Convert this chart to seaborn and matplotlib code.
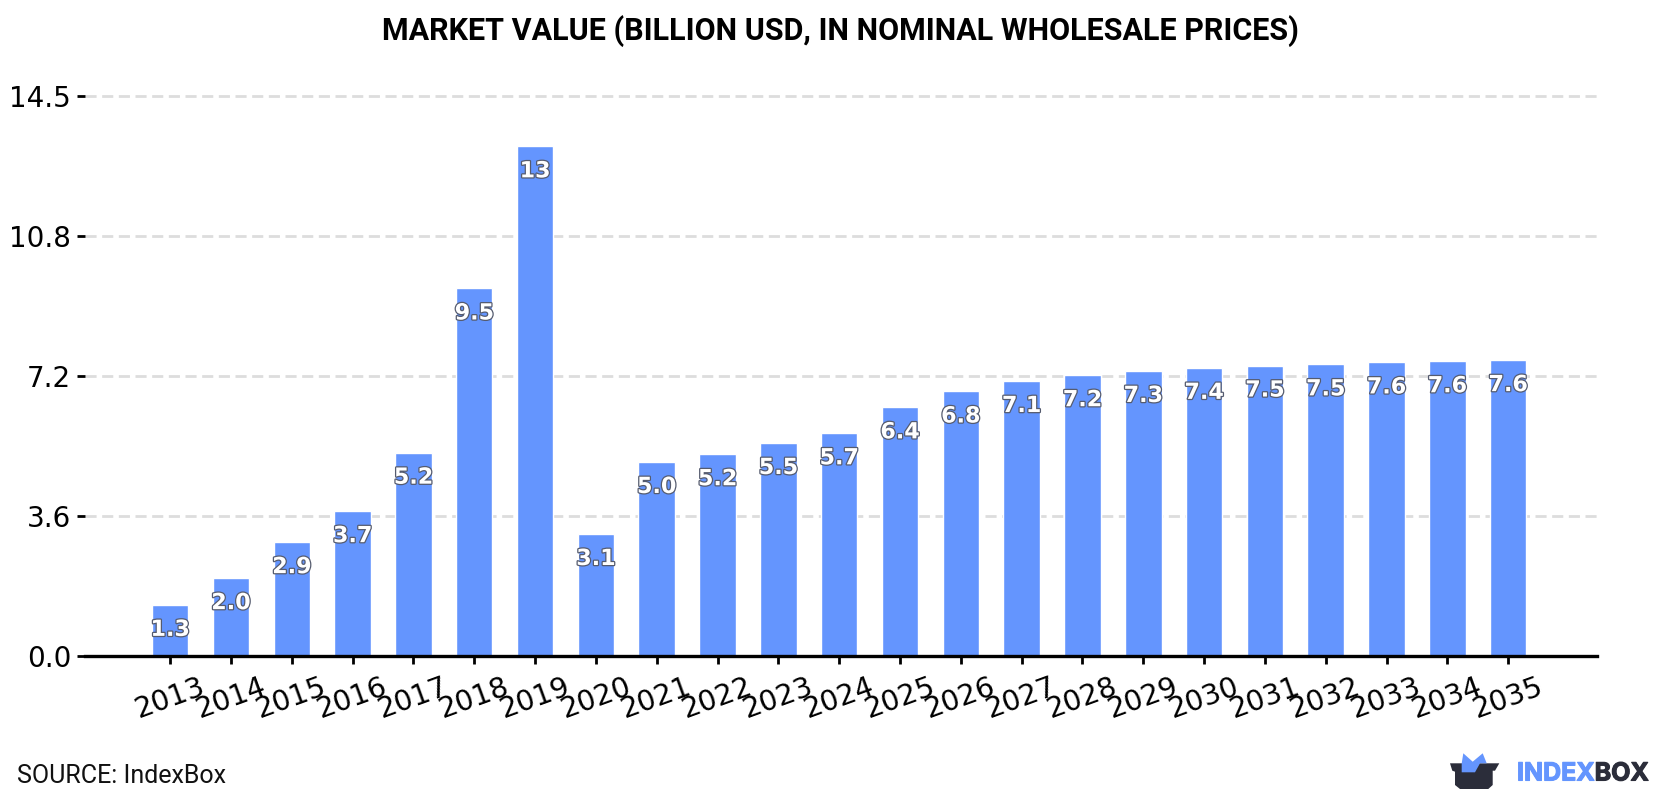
import matplotlib
matplotlib.use("Agg")
import matplotlib.pyplot as plt
import matplotlib.patheffects as pe
from matplotlib.patches import Polygon
import pandas as pd
import seaborn as sns

years = [str(y) for y in range(2013, 2036)]
values = [1.31, 2.0, 2.93, 3.73, 5.24, 9.48, 13.15, 3.14, 5.0, 5.2, 5.49, 5.74,
          6.41, 6.82, 7.09, 7.24, 7.35, 7.43, 7.49, 7.52, 7.57, 7.6, 7.63]
y_ticks = [0.0, 3.6125, 7.225, 10.8375, 14.45]
y_tick_labels = ["0.0", "3.6", "7.2", "10.8", "14.5"]
title = "MARKET VALUE (BILLION USD, IN NOMINAL WHOLESALE PRICES)"
source = "SOURCE: IndexBox"

BLUE = "#6495fe"
DARK = "#2b2d3a"

sns.set_theme(style="white")
fig = plt.figure(figsize=(16.8, 8), dpi=100, facecolor="white")
ax = fig.add_axes([85 / 1680, 1 - 655.6 / 800, (1597 - 85) / 1680, (655.6 - 70) / 800])

df = pd.DataFrame({"year": years, "value": values})
sns.barplot(data=df, x="year", y="value", color=BLUE, width=0.6, saturation=1,
            ax=ax, zorder=3)

ax.set_xlim(-1.40, 23.46)
ax.set_ylim(0, 14.45 * 585.6 / 559.6)
ax.set_yticks(y_ticks)
ax.set_yticklabels(y_tick_labels, fontsize=20, color="black", family="DejaVu Sans")
ax.set_xlabel("")
ax.set_ylabel("")
ax.tick_params(axis="x", length=6, width=2, color="black", pad=6, bottom=True)
ax.tick_params(axis="y", length=6, width=2, color="black", pad=4, left=True)
for lbl in ax.get_xticklabels():
    lbl.set_rotation(20)
    lbl.set_fontsize(20.5)
    lbl.set_color("black")
    lbl.set_family("DejaVu Sans")
    lbl.set_ha("center")

ax.grid(axis="y", color="#dddddd", linestyle=(0, (4, 2)), linewidth=2, zorder=0)
ax.grid(axis="x", visible=False)
for side in ("top", "right", "left"):
    ax.spines[side].set_visible(False)
ax.spines["bottom"].set_color("black")
ax.spines["bottom"].set_linewidth(2.4)
ax.spines["bottom"].set_zorder(5)

# Value labels sit just inside the top of each bar
outline = [pe.withStroke(linewidth=1.8, foreground="#555b6e")]
for i, v in enumerate(values):
    text = f"{v:.0f}" if v >= 10 else f"{v:.1f}"
    ax.annotate(text, (i, v), xytext=(0, -18), textcoords="offset points",
                ha="center", va="center", color="white", fontsize=16,
                fontweight="bold", family="DejaVu Sans", path_effects=outline,
                zorder=6)

fig.text(840 / 1680, 1 - 31 / 800, title, ha="center", va="center",
         fontsize=22, fontweight="bold", family="Roboto", color="black")
fig.text(17 / 1680, 1 - 776 / 800, source, ha="left", va="center",
         fontsize=18, family="Roboto", color="#111111")


def to_fig(points):
    return [(x / 1680, 1 - y / 800) for x, y in points]


# Brand mark in the lower right corner: dark box with a blue shape rising out of it
fig.add_artist(Polygon(to_fig([(1450, 763.3), (1499.3, 763.3), (1495, 770.7), (1492.7, 770.7), (1492.7, 785),
                               (1488.3, 789), (1460, 789), (1455, 785), (1455, 771.7), (1452.3, 770.7)]),
                       closed=True, facecolor=DARK, edgecolor="none", transform=fig.transFigure))
fig.add_artist(Polygon(to_fig([(1461.7, 763.3), (1463.3, 753.3), (1472.7, 761.7), (1482.7, 753.3), (1486.7, 763.3),
                               (1480, 763.3), (1475, 772.3), (1461.7, 772.3)]),
                       closed=True, facecolor=BLUE, edgecolor="none", transform=fig.transFigure))
t1 = fig.text(1517 / 1680, 1 - 774 / 800, "INDEX", ha="left", va="center",
              fontsize=18, fontweight="bold", family="Inter", color=BLUE,
              path_effects=[pe.withStroke(linewidth=0.8, foreground=BLUE)])
fig.canvas.draw()
bb = t1.get_window_extent()
fig.text(bb.x1 / 1680, 1 - 774 / 800, "BOX", ha="left", va="center",
         fontsize=18, fontweight="bold", family="Inter", color=DARK,
         path_effects=[pe.withStroke(linewidth=0.8, foreground=DARK)])

fig.savefig("out.png", dpi=100, facecolor="white")
